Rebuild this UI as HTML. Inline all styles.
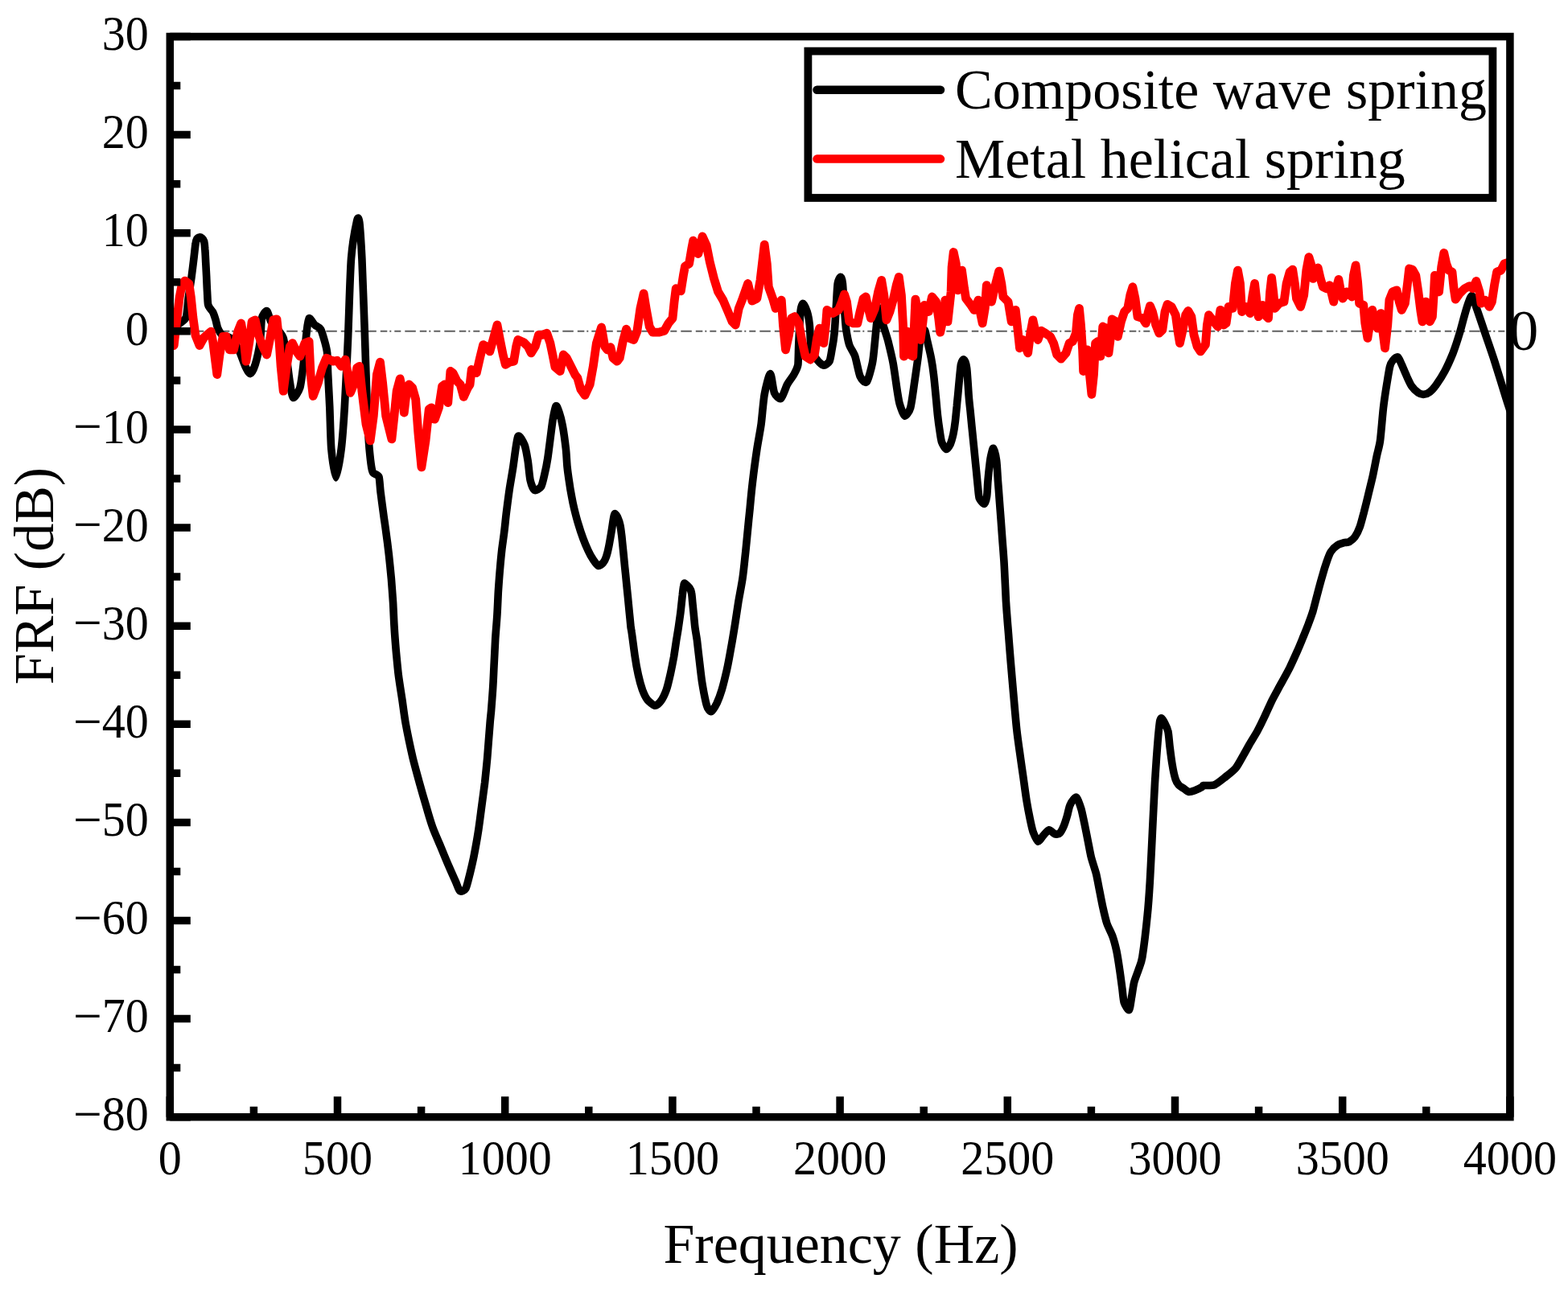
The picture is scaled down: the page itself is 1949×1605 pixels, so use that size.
<!DOCTYPE html>
<html><head><meta charset="utf-8"><title>FRF</title>
<style>
html,body{margin:0;padding:0;background:#fff;}
body{width:1949px;height:1605px;overflow:hidden;}
svg{display:block;}
text{font-family:"Liberation Serif",serif;fill:#000;}
.tl{font-size:60.5px;}
.mn{font-size:66px;}
.al{font-size:70px;}
</style></head><body>
<svg width="1949" height="1605" viewBox="0 0 1949 1605">
<rect width="1949" height="1605" fill="#fff"/>

<defs><clipPath id="pc"><rect x="211.3" y="45.5" width="1665.6000000000001" height="1343.2"/></clipPath></defs>
<line x1="211.3" y1="411.8" x2="1876.9" y2="411.8" stroke="#606060" stroke-width="2.1" stroke-dasharray="13.5,5,8.5,3,2,4,8,5" stroke-dashoffset="2"/>
<text x="1876" y="434.6" style="font-size:72.5px">0</text>
<path clip-path="url(#pc)" d="M212.3,411.2 C213.3,410.3 218.3,405.9 220.6,404.0 C222.8,402.0 229.5,398.7 231.2,394.6 C232.6,391.1 233.4,375.7 234.3,369.7 C235.1,363.7 237.2,350.7 238.0,344.8 C238.8,338.8 240.5,324.8 241.1,319.8 C241.7,314.9 242.5,306.4 243.0,303.6 C243.4,300.9 244.3,297.8 244.9,296.8 C245.5,295.7 247.2,295.0 248.0,294.9 C248.7,294.8 250.4,295.6 251.1,296.2 C251.8,296.8 253.1,298.3 253.6,299.9 C254.0,301.6 254.6,306.7 254.8,309.9 C255.1,313.0 255.5,321.9 255.7,326.1 C255.9,330.3 256.5,340.3 256.7,344.8 C256.9,349.3 257.3,359.4 257.6,363.5 C257.8,367.5 258.1,376.0 258.6,378.4 C259.0,380.8 260.3,382.2 261.1,383.4 C261.8,384.6 264.0,386.7 264.8,388.4 C265.6,390.0 267.2,394.9 267.9,397.1 C268.6,399.3 269.7,405.1 270.4,407.1 C271.1,409.0 272.8,412.2 273.5,413.3 C274.2,414.4 274.9,415.7 276.1,416.3 C277.6,417.2 283.9,418.2 286.4,420.4 C288.8,422.6 294.4,430.6 296.7,434.8 C298.9,439.0 303.2,451.8 304.9,455.4 C306.6,459.0 309.6,464.9 311.1,464.6 C312.5,464.4 315.7,458.1 317.2,453.3 C318.7,448.5 322.4,431.4 323.4,424.5 C324.3,418.0 324.5,400.0 325.4,395.7 C326.4,391.2 330.3,386.0 331.6,386.5 C333.0,387.0 335.3,397.3 336.8,399.8 C338.2,402.4 342.1,405.6 344.0,408.1 C345.8,410.5 350.7,416.0 352.2,420.4 C353.7,424.9 355.3,438.4 356.3,445.1 C357.3,451.8 359.4,470.0 360.4,475.9 C361.4,481.9 363.0,493.7 364.5,494.4 C366.0,495.2 371.3,486.8 372.8,482.1 C374.2,477.4 375.9,463.5 376.9,455.4 C377.9,447.2 380.1,421.4 381.0,414.2 C381.8,407.1 382.8,397.0 384.1,395.7 C385.3,394.5 389.5,402.4 391.3,404.0 C393.0,405.6 397.0,406.6 398.5,409.1 C399.9,411.6 402.6,420.9 403.6,424.5 C404.6,428.1 406.2,434.0 406.7,438.9 C407.1,443.5 407.3,457.5 407.7,465.7 C408.1,473.8 409.3,495.7 409.8,506.8 C410.3,517.9 410.9,547.7 411.8,558.2 C412.8,568.7 416.0,593.9 417.5,593.9 C419.0,593.9 422.9,568.7 424.2,558.2 C425.5,547.7 427.3,522.8 428.3,506.8 C429.3,490.7 431.4,446.7 432.4,424.5 C433.4,402.3 435.1,339.7 436.5,321.7 C437.9,303.7 442.5,279.8 443.7,274.4 C444.9,269.0 446.0,270.8 446.8,276.5 C447.5,282.1 449.1,306.4 449.9,321.7 C450.6,337.0 452.3,386.7 453.0,404.0 C453.6,421.2 454.5,450.8 455.0,465.7 C455.5,480.5 456.6,516.2 457.1,527.4 C457.6,538.5 458.6,551.8 459.1,558.2 C459.7,564.6 461.1,577.0 461.7,580.6 C462.3,584.1 462.8,586.5 463.8,587.8 C464.9,589.2 469.8,590.1 471.0,592.9 C471.9,595.3 472.3,605.5 473.0,611.4 C473.7,617.3 476.3,636.4 477.1,642.3 C477.9,648.1 478.9,654.3 479.6,660.0 C480.4,665.7 482.6,682.7 483.4,689.9 C484.2,697.1 485.7,712.6 486.4,719.8 C487.0,727.0 488.1,742.5 488.6,749.7 C489.0,756.9 489.6,772.4 490.1,779.6 C490.5,786.8 491.7,802.4 492.3,809.5 C493.0,816.7 494.4,832.3 495.3,839.4 C496.2,846.6 498.7,862.1 499.8,869.3 C500.9,876.6 502.7,891.3 504.3,900.0 C505.9,908.7 511.1,933.5 513.1,942.3 C515.2,951.0 519.4,966.0 521.3,973.1 C523.3,980.3 527.6,995.2 529.6,1001.9 C531.5,1008.6 535.6,1022.5 537.8,1028.6 C540.0,1034.8 545.6,1047.4 548.1,1053.3 C550.5,1059.2 556.1,1072.8 558.4,1078.0 C560.6,1083.2 565.0,1092.9 566.6,1096.5 C568.2,1100.1 570.2,1106.8 571.7,1107.8 C573.2,1108.8 577.4,1107.3 578.9,1104.7 C580.4,1102.1 582.8,1091.2 584.1,1086.2 C585.3,1081.3 588.0,1069.8 589.2,1063.6 C590.4,1057.4 593.2,1042.0 594.3,1034.8 C595.5,1027.7 597.5,1011.4 598.5,1004.0 C599.4,996.6 601.7,980.5 602.6,973.1 C603.4,965.7 604.9,951.0 605.7,942.3 C606.4,933.5 608.4,907.0 609.0,900.0 C609.5,893.0 610.0,889.8 610.5,884.3 C610.9,878.8 612.3,861.6 612.7,854.4 C613.2,847.2 613.8,831.7 614.2,824.5 C614.6,817.3 615.3,801.8 615.7,794.6 C616.1,787.4 617.5,771.9 617.9,764.7 C618.4,757.5 619.0,741.9 619.4,734.8 C619.9,727.6 621.1,711.1 621.7,704.9 C622.2,698.6 623.3,687.8 623.9,682.4 C624.6,677.0 626.3,665.3 626.9,660.0 C627.6,654.7 628.5,644.5 629.3,638.1 C630.1,631.8 632.4,614.0 633.4,607.3 C634.4,600.6 636.3,590.4 637.5,582.6 C638.8,574.9 642.0,546.3 643.8,542.8 C645.5,539.2 650.5,549.5 652.0,553.1 C653.5,556.6 655.2,567.3 656.1,572.6 C657.0,577.9 658.1,592.6 659.1,597.0 C660.1,601.4 662.7,608.4 664.3,609.4 C665.9,610.3 671.0,607.5 672.5,605.2 C674.0,603.0 675.6,595.0 676.6,590.8 C677.6,586.7 679.5,578.4 680.7,570.3 C682.0,562.2 685.7,531.1 686.9,523.2 C688.2,515.4 690.1,506.0 691.1,504.7 C692.0,503.5 694.2,510.0 695.2,513.0 C696.2,515.9 698.3,524.0 699.3,529.4 C700.3,534.8 702.7,552.1 703.4,558.2 C704.1,564.3 704.5,575.1 705.0,580.0 C705.5,584.9 706.8,594.2 707.5,598.7 C708.1,603.2 709.8,613.3 710.6,617.4 C711.3,621.4 712.7,628.3 713.7,632.3 C714.7,636.4 717.3,646.5 718.7,651.0 C720.0,655.5 723.4,665.7 724.9,669.7 C726.4,673.8 729.7,681.5 731.2,684.7 C732.6,687.8 735.9,693.6 737.4,695.9 C738.9,698.1 742.1,702.9 743.6,703.4 C745.1,703.8 748.6,701.0 749.8,699.6 C751.0,698.3 752.8,694.5 753.6,692.1 C754.4,689.8 756.0,683.3 756.7,679.7 C757.4,676.1 759.1,666.3 759.8,662.2 C760.5,658.2 761.8,648.9 762.3,646.0 C762.8,643.2 763.5,638.9 764.2,638.6 C764.8,638.3 767.1,641.8 767.9,643.6 C768.7,645.3 770.4,650.7 771.0,653.5 C771.6,656.4 772.4,663.3 772.9,667.2 C773.3,671.1 774.3,681.4 774.8,685.9 C775.2,690.4 776.2,700.1 776.6,704.6 C777.1,709.1 778.1,718.8 778.5,723.3 C779.0,727.8 779.9,737.5 780.4,742.0 C780.8,746.5 781.8,756.1 782.2,760.7 C782.7,765.2 783.8,777.0 784.1,780.0 C784.5,783.0 784.7,782.4 785.1,785.7 C785.8,790.0 788.3,810.1 789.3,816.5 C790.2,822.9 792.3,834.2 793.4,839.1 C794.5,844.1 797.2,853.9 798.5,857.6 C799.9,861.3 802.8,867.6 804.7,870.0 C806.5,872.3 812.0,876.9 813.9,877.2 C815.9,877.4 819.4,874.4 821.1,872.0 C822.9,869.7 826.8,861.8 828.3,857.6 C829.8,853.4 832.4,842.0 833.5,837.1 C834.6,832.1 836.7,821.4 837.6,816.5 C838.4,811.6 840.0,800.3 840.7,795.9 C841.4,791.6 842.7,784.2 843.3,780.0 C843.9,775.8 845.4,765.5 846.0,760.7 C846.6,755.8 847.8,743.4 848.3,739.5 C848.7,735.6 849.4,730.0 849.8,728.3 C850.1,726.6 850.5,725.0 851.2,725.2 C852.0,725.5 856.0,729.4 857.0,730.8 C858.0,732.2 859.1,734.9 859.5,737.0 C860.0,739.1 860.4,744.6 860.7,748.2 C861.1,751.8 862.2,763.1 862.6,766.9 C863.0,770.7 863.4,776.5 863.9,780.0 C864.3,783.5 865.7,790.8 866.4,795.9 C867.0,801.1 868.7,816.5 869.5,822.7 C870.2,828.8 871.7,841.7 872.5,847.4 C873.4,853.0 875.8,866.0 876.7,870.0 C877.5,873.9 878.8,878.5 879.7,880.3 C880.7,882.0 882.9,885.1 884.3,884.4 C885.6,883.6 889.5,877.3 891.1,874.1 C892.6,870.9 895.7,862.6 897.2,857.6 C898.7,852.7 902.0,839.1 903.4,833.0 C904.8,826.8 907.3,813.1 908.5,806.2 C909.8,799.3 912.6,782.3 913.7,775.4 C914.8,768.5 916.7,755.3 917.8,748.6 C918.9,742.0 921.9,726.5 922.9,719.8 C923.9,713.2 925.3,700.0 926.0,693.1 C926.8,686.2 928.4,669.7 929.1,662.3 C929.8,654.9 931.4,638.8 932.2,631.4 C932.9,624.0 934.2,609.4 935.3,600.6 C936.3,591.8 939.6,567.0 940.9,558.2 C942.2,549.4 945.0,535.5 946.1,527.4 C947.2,519.2 948.8,497.9 950.2,490.3 C951.5,482.8 955.9,464.9 957.4,464.6 C958.9,464.4 960.9,484.6 962.5,488.3 C964.1,492.0 968.8,496.7 970.7,495.5 C972.7,494.2 976.6,481.6 978.5,478.0 C980.4,474.4 985.1,468.6 986.7,465.7 C988.3,462.7 991.1,458.3 991.9,453.3 C992.3,450.2 992.5,432.4 992.9,424.5 C993.3,416.6 994.3,393.2 995.0,387.5 C995.6,381.8 997.1,377.2 998.0,377.2 C999.0,377.2 1002.2,384.3 1003.2,387.5 C1004.2,390.7 1005.7,398.3 1006.3,404.0 C1006.9,409.6 1007.4,430.5 1008.3,434.8 C1009.4,440.0 1013.7,444.8 1015.5,447.1 C1017.4,449.5 1021.9,454.1 1023.8,454.3 C1025.6,454.6 1029.7,451.5 1031.0,449.2 C1032.2,446.9 1033.3,439.0 1034.0,434.8 C1034.8,430.6 1036.5,420.4 1037.1,414.2 C1037.7,408.1 1038.7,390.8 1039.2,383.4 C1039.7,376.0 1040.5,357.2 1041.2,352.5 C1041.9,347.9 1044.2,344.3 1044.9,344.3 C1045.7,344.3 1046.9,347.9 1047.4,352.5 C1047.9,357.2 1049.0,376.7 1049.5,383.4 C1050.0,390.1 1050.8,402.6 1051.5,408.1 C1052.3,413.5 1054.3,424.4 1055.6,428.6 C1057.0,432.8 1061.2,438.3 1062.8,443.0 C1064.4,447.7 1067.3,463.9 1069.0,467.7 C1070.7,471.5 1075.4,476.9 1077.2,474.9 C1079.1,472.9 1083.2,457.3 1084.4,451.3 C1085.7,445.2 1086.8,431.4 1087.5,424.5 C1088.2,417.6 1089.9,398.6 1090.6,393.7 C1091.3,388.7 1092.4,382.2 1093.3,383.4 C1094.1,384.6 1096.5,399.0 1097.8,404.0 C1099.1,408.9 1102.5,418.8 1104.0,424.5 C1105.4,430.2 1108.8,443.9 1110.1,451.3 C1111.5,458.7 1114.3,480.1 1115.3,486.2 C1116.3,492.4 1117.2,499.0 1118.4,502.7 C1119.5,506.4 1122.9,516.6 1124.5,517.1 C1126.1,517.6 1130.2,512.0 1131.7,506.8 C1133.2,501.6 1135.8,481.3 1136.9,473.9 C1138.0,466.5 1140.1,451.5 1141.0,445.1 C1141.8,438.7 1143.1,424.6 1144.1,420.4 C1145.0,416.2 1148.2,409.9 1149.2,410.1 C1150.2,410.4 1151.3,418.3 1152.3,422.5 C1153.3,426.7 1156.4,439.9 1157.4,445.1 C1158.4,450.3 1159.8,459.5 1160.5,465.7 C1161.3,471.8 1163.0,490.3 1163.6,496.5 C1164.2,502.7 1165.0,512.6 1165.6,517.4 C1166.1,522.1 1167.5,532.2 1168.1,536.1 C1168.7,540.0 1169.6,547.1 1170.6,549.8 C1171.5,552.5 1174.9,558.2 1176.2,558.5 C1177.4,558.8 1180.1,554.5 1181.2,552.3 C1182.2,550.0 1184.1,543.3 1184.9,539.8 C1185.6,536.4 1186.9,527.8 1187.4,523.6 C1187.9,519.4 1188.9,508.7 1189.3,504.9 C1189.6,501.2 1189.9,498.0 1190.5,492.5 C1191.1,486.3 1193.5,458.8 1194.4,453.3 C1195.4,447.9 1197.3,446.7 1198.1,447.1 C1199.0,447.6 1200.9,452.0 1201.6,457.4 C1202.4,462.9 1203.7,486.0 1204.2,492.5 C1204.7,498.9 1205.6,506.7 1206.1,511.2 C1206.5,515.6 1207.5,525.4 1207.9,529.8 C1208.4,534.3 1209.4,544.0 1209.8,548.5 C1210.3,553.0 1211.2,562.7 1211.7,567.2 C1212.1,571.7 1213.1,581.4 1213.6,585.9 C1214.0,590.4 1215.0,600.6 1215.4,604.6 C1215.9,608.6 1216.4,617.3 1217.3,619.6 C1218.3,622.2 1222.4,626.7 1223.5,626.4 C1224.6,626.1 1226.1,620.4 1226.6,617.1 C1227.2,613.7 1227.5,602.9 1227.9,598.4 C1228.3,593.9 1229.3,583.4 1229.8,579.7 C1230.2,576.0 1231.0,569.9 1231.6,567.2 C1232.2,564.5 1233.9,556.6 1234.7,557.3 C1235.6,557.9 1237.9,567.6 1238.6,572.5 C1239.3,577.3 1240.0,591.4 1240.4,597.4 C1240.9,603.4 1241.9,616.3 1242.3,622.3 C1242.8,628.3 1243.7,641.2 1244.2,647.2 C1244.6,653.2 1245.6,666.2 1246.0,672.1 C1246.5,678.1 1247.5,691.1 1247.9,697.1 C1248.3,703.1 1248.9,716.0 1249.2,722.0 C1249.5,728.0 1250.2,742.4 1250.4,746.9 C1250.7,751.5 1251.0,756.3 1251.3,760.0 C1251.6,763.7 1252.3,773.6 1252.7,778.0 C1253.1,782.4 1253.8,791.7 1254.2,797.0 C1254.6,802.3 1255.6,814.7 1256.2,822.0 C1256.8,829.3 1258.4,847.8 1259.3,858.0 C1260.2,868.2 1262.7,897.7 1263.8,907.3 C1264.8,916.9 1266.9,931.0 1267.9,938.1 C1268.9,945.3 1271.0,960.0 1272.0,966.9 C1273.0,973.9 1275.0,989.1 1276.1,995.7 C1277.2,1002.4 1280.2,1017.8 1281.2,1022.5 C1282.2,1027.2 1283.3,1032.0 1284.3,1034.8 C1285.4,1037.6 1288.6,1045.6 1290.1,1046.1 C1291.6,1046.6 1295.0,1040.6 1296.7,1038.9 C1298.3,1037.2 1302.1,1032.0 1303.9,1031.7 C1305.6,1031.5 1309.4,1036.4 1311.1,1036.9 C1312.7,1037.4 1315.9,1037.1 1317.2,1035.8 C1318.6,1034.6 1321.3,1029.2 1322.4,1026.6 C1323.5,1024.0 1325.6,1017.2 1326.5,1014.2 C1327.3,1011.3 1328.7,1004.2 1329.6,1001.9 C1330.4,999.6 1332.6,995.9 1333.7,994.7 C1334.7,993.5 1337.0,990.3 1338.2,991.6 C1339.4,993.0 1342.8,1002.1 1344.0,1006.0 C1345.1,1010.0 1347.1,1019.8 1348.1,1024.5 C1349.1,1029.2 1351.2,1040.2 1352.2,1045.1 C1353.2,1050.0 1355.1,1060.7 1356.3,1065.7 C1357.5,1070.6 1361.2,1081.3 1362.5,1086.2 C1363.7,1091.2 1365.6,1101.9 1366.6,1106.8 C1367.6,1111.7 1369.6,1122.4 1370.7,1127.4 C1371.8,1132.3 1374.4,1143.5 1375.8,1147.9 C1377.3,1152.4 1381.6,1160.2 1383.0,1164.4 C1384.5,1168.5 1386.8,1177.4 1387.9,1182.4 C1388.9,1187.4 1390.9,1200.2 1391.7,1205.8 C1392.6,1211.4 1394.2,1224.3 1394.9,1229.1 C1395.5,1234.0 1396.2,1243.1 1397.2,1246.3 C1398.2,1249.4 1402.3,1256.4 1403.4,1255.6 C1404.5,1254.9 1405.8,1244.1 1406.5,1240.0 C1407.3,1235.9 1408.6,1225.5 1409.7,1221.3 C1410.7,1217.2 1413.9,1209.5 1415.1,1205.8 C1416.3,1202.0 1418.4,1198.4 1419.8,1190.2 C1421.1,1182.0 1425.1,1148.9 1426.2,1137.6 C1427.4,1126.4 1428.7,1106.4 1429.3,1096.5 C1429.9,1086.6 1430.9,1065.2 1431.4,1055.4 C1431.9,1045.5 1432.9,1024.1 1433.4,1014.2 C1433.9,1004.4 1435.0,981.7 1435.5,973.1 C1436.0,964.5 1437.0,949.2 1437.5,942.3 C1438.0,935.4 1439.1,921.0 1439.6,915.5 C1440.1,910.1 1441.2,899.7 1441.6,897.0 C1442.1,894.3 1443.0,892.7 1443.7,892.9 C1444.4,893.2 1446.8,897.1 1447.8,899.1 C1448.8,901.0 1451.2,905.9 1451.9,909.4 C1452.7,912.8 1453.4,922.9 1454.0,927.9 C1454.6,932.8 1456.2,945.6 1457.1,950.5 C1457.9,955.4 1460.2,965.9 1461.2,969.0 C1462.2,972.1 1464.1,974.8 1465.3,976.2 C1466.5,977.6 1470.0,979.3 1471.5,980.3 C1472.9,981.3 1475.9,984.2 1477.6,984.4 C1479.4,984.7 1483.9,983.1 1485.9,982.4 C1487.8,981.6 1492.9,979.0 1494.1,978.3 C1494.8,977.8 1494.9,976.6 1495.6,976.5 C1497.4,976.2 1506.2,977.0 1509.6,975.7 C1513.0,974.4 1520.4,968.1 1523.6,965.6 C1526.8,963.1 1533.5,957.9 1536.1,954.7 C1538.7,951.5 1543.4,942.7 1545.4,939.1 C1547.5,935.6 1551.2,928.7 1553.2,925.1 C1555.3,921.6 1560.3,913.6 1562.6,909.5 C1564.8,905.4 1569.7,895.5 1571.9,890.8 C1574.1,886.2 1578.8,875.5 1581.2,870.6 C1583.7,865.7 1589.5,855.2 1592.1,850.3 C1594.8,845.5 1600.6,835.0 1603.1,830.1 C1605.5,825.2 1610.3,814.5 1612.4,809.8 C1614.5,805.2 1618.5,795.3 1620.2,791.2 C1621.9,787.0 1625.0,779.3 1626.4,775.6 C1627.8,771.8 1630.5,764.6 1631.9,760.0 C1633.2,755.4 1636.3,742.9 1637.8,737.4 C1639.2,732.0 1642.6,719.5 1644.0,714.8 C1645.3,710.1 1647.9,701.8 1649.1,698.4 C1650.3,694.9 1652.6,688.5 1654.2,686.0 C1655.8,683.5 1660.5,679.1 1662.5,677.8 C1664.4,676.4 1669.0,675.2 1670.7,674.7 C1672.4,674.2 1675.3,674.5 1676.9,673.7 C1678.5,672.8 1682.5,669.7 1684.1,667.5 C1685.7,665.3 1688.9,658.9 1690.2,655.2 C1691.6,651.5 1694.1,641.3 1695.4,636.7 C1696.6,632.0 1699.2,621.6 1700.5,616.1 C1701.8,610.6 1705.2,597.0 1706.5,591.0 C1707.8,585.0 1710.4,571.2 1711.5,566.0 C1712.6,560.8 1714.5,555.1 1715.5,548.0 C1716.5,540.9 1718.5,515.6 1719.5,507.0 C1720.5,498.4 1723.0,482.1 1724.0,476.0 C1725.0,469.9 1726.7,459.3 1727.5,456.0 C1728.3,452.7 1729.8,449.9 1731.0,448.5 C1732.2,447.1 1736.1,443.4 1737.5,444.0 C1738.9,444.6 1741.0,450.5 1742.3,453.3 C1743.6,456.2 1747.0,464.5 1748.5,467.7 C1750.0,470.9 1752.9,477.6 1754.7,480.1 C1756.4,482.5 1761.0,487.0 1762.9,488.3 C1764.7,489.5 1768.4,490.5 1770.1,490.3 C1771.8,490.2 1775.4,488.7 1777.3,487.2 C1779.1,485.8 1783.3,481.1 1785.5,478.0 C1787.7,474.9 1793.3,466.2 1795.8,461.5 C1798.3,456.9 1803.8,444.6 1806.1,438.9 C1808.3,433.2 1812.6,419.9 1814.3,414.2 C1816.0,408.6 1819.1,396.3 1820.5,391.6 C1821.8,386.9 1824.5,378.0 1825.6,375.2 C1826.7,372.3 1828.6,366.8 1829.8,368.0 C1831.0,369.2 1834.1,379.4 1836.0,385.0 C1837.9,390.6 1843.4,406.7 1846.0,414.5 C1848.6,422.3 1854.9,440.2 1858.0,450.0 C1861.1,459.8 1869.9,488.4 1872.2,495.8 C1874.5,503.2 1876.9,510.1 1877.5,512.0" fill="none" stroke="#000" stroke-width="9.6" stroke-linejoin="round" stroke-linecap="round"/>
<path clip-path="url(#pc)" d="M212.3,422.5 L216.2,429.5 L218.7,407.1 L223.1,369.7 L226.2,353.5 L229.9,349.1 L234.9,352.9 L237.4,369.7 L239.9,394.6 L243.0,417.0 L248.0,429.5 L253.6,419.5 L262.3,412.1 L264.8,425.8 L267.9,450.7 L269.8,465.6 L273.0,441.0 L277.1,418.4 L281.2,418.4 L285.3,434.8 L290.5,434.8 L295.6,412.2 L299.7,401.9 L302.8,420.4 L305.9,449.2 L310.0,424.5 L313.1,399.8 L317.2,397.8 L321.3,416.3 L326.5,430.7 L331.6,441.0 L335.7,420.4 L339.8,397.8 L344.0,396.8 L347.0,424.5 L349.1,455.4 L352.2,486.2 L356.3,455.4 L360.4,430.7 L363.5,426.6 L368.6,436.9 L372.8,443.0 L378.9,426.6 L384.1,424.5 L386.1,465.7 L389.2,492.4 L395.4,475.9 L400.5,457.4 L405.7,445.1 L413.9,449.2 L419.0,448.2 L424.2,455.4 L429.3,447.1 L432.4,465.7 L435.5,488.3 L440.6,475.9 L443.7,457.4 L446.8,455.4 L449.9,486.2 L455.0,527.4 L460.2,547.9 L464.3,517.1 L468.4,465.7 L472.5,450.2 L475.6,475.9 L479.7,517.1 L486.9,545.9 L490.0,517.1 L493.1,486.2 L497.2,470.8 L500.3,486.2 L502.3,513.0 L505.4,486.2 L508.5,478.0 L512.6,482.1 L516.7,496.5 L519.8,537.6 L523.9,580.8 L529.0,547.9 L533.2,508.8 L536.2,506.8 L540.4,521.2 L545.5,506.8 L549.6,480.1 L552.7,478.0 L556.8,500.6 L559.9,461.5 L563.0,463.6 L568.1,473.9 L572.2,478.0 L576.3,493.4 L581.5,482.1 L584.1,478.0 L586.2,459.5 L592.3,463.6 L596.5,445.1 L600.6,428.6 L604.7,430.7 L608.8,436.9 L612.9,422.5 L618.0,404.0 L621.1,420.4 L625.2,441.0 L628.3,453.3 L633.5,450.2 L638.6,449.2 L641.7,430.7 L643.8,422.5 L651.0,425.6 L656.1,430.7 L660.2,438.9 L665.3,430.7 L669.5,416.3 L674.6,416.3 L679.7,414.2 L683.9,426.6 L686.9,441.0 L690.0,456.4 L696.2,461.5 L700.3,441.0 L704.4,445.1 L709.6,455.4 L714.7,465.7 L717.8,469.8 L721.9,484.2 L727.0,491.4 L733.2,478.0 L737.3,455.4 L741.4,426.6 L747.6,407.0 L751.7,430.7 L754.8,434.8 L758.9,431.7 L762.0,445.1 L767.1,449.2 L770.2,445.1 L774.3,424.5 L778.5,409.1 L782.6,420.4 L787.7,422.5 L791.8,412.2 L795.9,383.4 L800.1,364.9 L803.1,383.4 L807.2,406.0 L811.4,413.2 L818.6,413.2 L825.8,411.2 L830.9,401.9 L836.0,395.7 L838.1,375.2 L840.2,358.7 L846.3,361.8 L849.4,342.3 L851.5,331.0 L856.6,327.9 L859.7,309.4 L861.7,299.1 L867.9,315.5 L873.1,293.9 L878.2,305.2 L882.3,325.8 L887.5,346.4 L892.6,362.8 L898.8,373.1 L904.9,387.5 L910.1,399.8 L914.2,404.0 L918.3,383.4 L922.4,373.1 L929.6,352.5 L934.8,374.1 L940.9,371.1 L945.0,348.4 L950.2,304.2 L953.3,327.9 L955.3,356.7 L960.5,371.1 L964.1,383.4 L971.3,373.1 L973.4,404.0 L976.5,434.8 L980.6,416.3 L983.7,395.7 L987.8,393.7 L992.9,401.9 L997.0,424.5 L1001.1,443.0 L1007.3,447.1 L1012.4,441.0 L1015.5,420.4 L1018.6,408.1 L1023.8,426.6 L1026.8,399.8 L1027.9,385.4 L1035.1,389.6 L1042.3,385.4 L1046.4,375.2 L1049.5,365.9 L1052.5,375.2 L1055.6,399.8 L1060.8,401.9 L1065.9,401.9 L1069.0,387.5 L1073.1,371.1 L1076.2,369.0 L1079.3,383.4 L1082.4,395.7 L1087.5,383.4 L1091.6,362.8 L1095.7,348.4 L1098.8,366.9 L1101.9,397.8 L1106.0,387.5 L1110.1,373.1 L1114.2,354.6 L1117.3,344.3 L1120.4,366.9 L1122.5,404.0 L1123.5,443.0 L1127.6,412.2 L1130.7,441.0 L1134.8,443.0 L1136.9,393.7 L1137.9,372.1 L1142.0,393.7 L1144.1,422.5 L1147.1,399.8 L1149.2,379.3 L1154.3,387.5 L1158.5,369.0 L1163.6,375.2 L1166.7,395.7 L1168.7,413.2 L1172.9,393.7 L1174.9,373.1 L1178.0,399.8 L1182.1,362.8 L1183.1,332.0 L1185.2,313.5 L1188.3,327.9 L1190.3,360.8 L1195.5,336.1 L1198.6,358.7 L1200.6,371.1 L1206.8,379.3 L1210.9,385.4 L1216.0,373.1 L1219.1,391.6 L1221.2,401.9 L1224.3,383.4 L1226.3,354.6 L1232.5,375.2 L1236.6,356.7 L1241.7,337.1 L1244.8,352.5 L1246.9,369.0 L1253.1,375.2 L1257.2,399.8 L1262.3,385.4 L1264.4,404.0 L1267.5,432.8 L1271.6,422.5 L1277.7,438.9 L1280.8,414.2 L1283.9,397.8 L1287.0,412.2 L1290.1,422.5 L1294.2,411.2 L1299.3,414.2 L1305.5,418.4 L1309.6,426.6 L1313.7,441.0 L1318.9,446.1 L1325.0,438.9 L1329.2,426.6 L1333.3,424.5 L1337.4,414.2 L1339.4,391.6 L1341.5,383.4 L1343.5,404.0 L1345.6,434.8 L1346.6,461.5 L1351.3,434.8 L1354.4,465.7 L1356.9,490.3 L1359.5,465.7 L1361.6,426.6 L1364.7,424.5 L1367.8,443.0 L1370.8,406.0 L1375.0,408.1 L1378.0,438.9 L1381.1,414.2 L1382.2,396.8 L1387.3,399.8 L1389.4,418.4 L1393.5,399.8 L1397.6,387.5 L1401.7,383.4 L1404.8,366.9 L1407.9,356.7 L1411.0,371.1 L1414.0,393.7 L1420.2,395.7 L1424.3,401.9 L1427.4,387.5 L1429.5,380.3 L1432.5,387.5 L1436.7,404.0 L1440.8,414.2 L1444.9,410.1 L1448.0,387.5 L1451.1,378.3 L1456.2,381.3 L1461.3,391.6 L1464.4,414.2 L1466.5,426.6 L1470.6,408.1 L1473.7,391.6 L1476.8,386.5 L1480.9,393.7 L1484.0,416.3 L1488.1,430.7 L1492.2,436.9 L1498.4,428.6 L1500.4,404.0 L1502.5,391.6 L1508.6,399.8 L1513.8,406.0 L1516.9,385.4 L1521.0,404.0 L1524.1,401.9 L1527.1,381.3 L1532.3,383.4 L1535.4,352.5 L1538.5,336.1 L1541.5,352.5 L1543.6,387.5 L1548.7,381.3 L1553.9,389.6 L1557.0,366.9 L1559.6,352.5 L1562.1,375.2 L1564.2,393.7 L1569.3,379.3 L1572.4,391.6 L1576.5,395.7 L1578.6,362.8 L1580.6,345.3 L1582.7,362.8 L1584.7,383.4 L1589.9,377.2 L1596.0,375.2 L1599.1,352.5 L1603.2,338.1 L1606.7,335.1 L1609.4,352.5 L1611.5,371.1 L1616.6,381.3 L1620.7,366.9 L1623.8,336.1 L1626.9,319.6 L1630.0,329.9 L1632.0,346.4 L1635.1,336.1 L1638.2,333.0 L1641.3,346.4 L1644.4,356.7 L1648.5,358.7 L1652.6,354.6 L1655.7,366.9 L1657.7,375.2 L1660.8,358.7 L1663.9,347.4 L1666.0,358.7 L1669.0,371.1 L1674.2,362.8 L1680.4,369.0 L1682.4,342.3 L1685.1,329.9 L1687.6,350.5 L1689.6,377.2 L1694.8,379.3 L1696.8,401.9 L1699.9,420.4 L1703.0,399.8 L1705.7,385.4 L1709.2,399.8 L1712.2,408.1 L1716.3,389.6 L1719.4,416.3 L1721.5,432.8 L1724.8,404.0 L1726.9,373.1 L1731.0,362.8 L1736.1,360.8 L1739.2,375.2 L1742.3,385.4 L1746.4,377.2 L1749.5,352.5 L1751.6,334.0 L1755.7,335.1 L1759.8,342.3 L1762.9,362.8 L1766.0,387.5 L1768.0,399.8 L1772.1,375.2 L1777.3,399.8 L1780.4,393.7 L1782.4,362.8 L1783.4,342.3 L1788.6,362.8 L1791.7,332.0 L1794.8,314.5 L1797.8,327.9 L1800.9,336.1 L1805.0,338.1 L1807.1,358.7 L1809.2,372.1 L1814.3,364.9 L1820.5,358.7 L1826.6,355.6 L1830.7,358.7 L1834.9,349.5 L1839.0,362.8 L1841.0,377.2 L1846.2,373.1 L1851.3,381.3 L1854.4,375.2 L1857.5,354.6 L1860.6,338.1 L1865.7,336.1 L1869.8,327.9 L1876.0,325.8" fill="none" stroke="#ff0000" stroke-width="10.8" stroke-linejoin="round" stroke-linecap="round"/>
<path d="M211.3,1388.7 v-25.5 M315.4,1388.7 v-13 M419.5,1388.7 v-25.5 M523.6,1388.7 v-13 M627.7,1388.7 v-25.5 M731.8,1388.7 v-13 M835.9,1388.7 v-25.5 M940.0,1388.7 v-13 M1044.1,1388.7 v-25.5 M1148.2,1388.7 v-13 M1252.3,1388.7 v-25.5 M1356.4,1388.7 v-13 M1460.5,1388.7 v-25.5 M1564.6,1388.7 v-13 M1668.7,1388.7 v-25.5 M1772.8,1388.7 v-13 M1876.9,1388.7 v-25.5 M211.3,45.5 h25.5 M211.3,106.6 h13 M211.3,167.6 h25.5 M211.3,228.7 h13 M211.3,289.7 h25.5 M211.3,350.8 h13 M211.3,411.8 h25.5 M211.3,472.9 h13 M211.3,533.9 h25.5 M211.3,595.0 h13 M211.3,656.0 h25.5 M211.3,717.1 h13 M211.3,778.2 h25.5 M211.3,839.2 h13 M211.3,900.3 h25.5 M211.3,961.3 h13 M211.3,1022.4 h25.5 M211.3,1083.4 h13 M211.3,1144.5 h25.5 M211.3,1205.5 h13 M211.3,1266.6 h25.5 M211.3,1327.6 h13 M211.3,1388.7 h25.5" stroke="#000" stroke-width="9.5" fill="none"/>
<rect x="211.3" y="45.5" width="1665.6" height="1343.2" fill="none" stroke="#000" stroke-width="9.5"/>
<text class="tl" transform="translate(211.3,1460) scale(0.96,1)" text-anchor="middle">0</text>
<text class="tl" transform="translate(419.5,1460) scale(0.96,1)" text-anchor="middle">500</text>
<text class="tl" transform="translate(627.7,1460) scale(0.96,1)" text-anchor="middle">1000</text>
<text class="tl" transform="translate(835.9,1460) scale(0.96,1)" text-anchor="middle">1500</text>
<text class="tl" transform="translate(1044.1,1460) scale(0.96,1)" text-anchor="middle">2000</text>
<text class="tl" transform="translate(1252.3,1460) scale(0.96,1)" text-anchor="middle">2500</text>
<text class="tl" transform="translate(1460.5,1460) scale(0.96,1)" text-anchor="middle">3000</text>
<text class="tl" transform="translate(1668.7,1460) scale(0.96,1)" text-anchor="middle">3500</text>
<text class="tl" transform="translate(1876.9,1460) scale(0.96,1)" text-anchor="middle">4000</text>
<text class="tl" transform="translate(184.8,62.2) scale(0.96,1)" text-anchor="end"><tspan>30</tspan></text>
<text class="tl" transform="translate(184.8,184.3) scale(0.96,1)" text-anchor="end"><tspan>20</tspan></text>
<text class="tl" transform="translate(184.8,306.4) scale(0.96,1)" text-anchor="end"><tspan>10</tspan></text>
<text class="tl" transform="translate(184.8,428.5) scale(0.96,1)" text-anchor="end"><tspan>0</tspan></text>
<text class="tl" transform="translate(184.8,550.6) scale(0.96,1)" text-anchor="end"><tspan class="mn" dy="1.5">−</tspan><tspan dy="-1.5">10</tspan></text>
<text class="tl" transform="translate(184.8,672.7) scale(0.96,1)" text-anchor="end"><tspan class="mn" dy="1.5">−</tspan><tspan dy="-1.5">20</tspan></text>
<text class="tl" transform="translate(184.8,794.9) scale(0.96,1)" text-anchor="end"><tspan class="mn" dy="1.5">−</tspan><tspan dy="-1.5">30</tspan></text>
<text class="tl" transform="translate(184.8,917.0) scale(0.96,1)" text-anchor="end"><tspan class="mn" dy="1.5">−</tspan><tspan dy="-1.5">40</tspan></text>
<text class="tl" transform="translate(184.8,1039.1) scale(0.96,1)" text-anchor="end"><tspan class="mn" dy="1.5">−</tspan><tspan dy="-1.5">50</tspan></text>
<text class="tl" transform="translate(184.8,1161.2) scale(0.96,1)" text-anchor="end"><tspan class="mn" dy="1.5">−</tspan><tspan dy="-1.5">60</tspan></text>
<text class="tl" transform="translate(184.8,1283.3) scale(0.96,1)" text-anchor="end"><tspan class="mn" dy="1.5">−</tspan><tspan dy="-1.5">70</tspan></text>
<text class="tl" transform="translate(184.8,1405.4) scale(0.96,1)" text-anchor="end"><tspan class="mn" dy="1.5">−</tspan><tspan dy="-1.5">80</tspan></text>
<text class="al" x="1045" y="1569.5" text-anchor="middle">Frequency (Hz)</text>
<text class="al" transform="translate(65.5,716) rotate(-90)" text-anchor="middle">FRF (dB)</text>
<rect x="1004.4" y="63.6" width="851" height="182.4" fill="#fff" stroke="#000" stroke-width="9.8"/>
<line x1="1015.5" y1="111.8" x2="1169" y2="111.8" stroke="#000" stroke-width="10.5" stroke-linecap="round"/>
<line x1="1015.5" y1="197.6" x2="1169" y2="197.6" stroke="#ff0000" stroke-width="10.5" stroke-linecap="round"/>
<text class="al" x="1187" y="135">Composite wave spring</text>
<text class="al" x="1187" y="221">Metal helical spring</text>
</svg></body></html>
